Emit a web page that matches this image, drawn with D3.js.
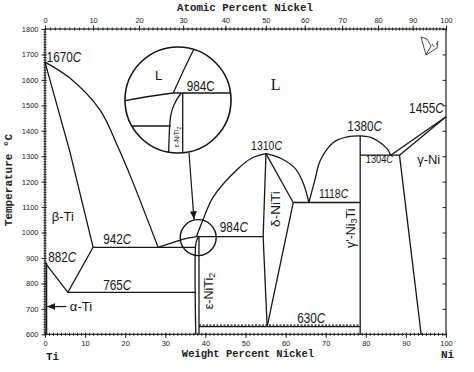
<!DOCTYPE html>
<html>
<head>
<meta charset="utf-8">
<script src="https://cdn.jsdelivr.net/npm/d3@7"></script>
<style>
  body { margin: 0; background: #fff; }
  svg { display: block; }
  .b { fill: none; stroke: #151515; stroke-width: 1.3; }
  .tick text { font-family: "Liberation Sans", Arial, sans-serif; font-size: 7.5px; fill: #222; }
  .tick line, .domain { stroke: #222; }
  .num { font-family: "Liberation Sans", Arial, sans-serif; fill: #151515; }
  .ph { font-family: "Liberation Sans", Arial, sans-serif; fill: #151515; }
  .ttl { font-family: "Liberation Mono", "DejaVu Sans Mono", monospace; font-weight: bold; fill: #222; }
</style>
</head>
<body>
<svg id="chart" width="474" height="372"></svg>
<script>
// tick labels
var wtTicks = [0, 10, 20, 30, 40, 50, 60, 70, 80, 90, 100];
var atTicks = [0, 10, 20, 30, 40, 50, 60, 70, 80, 90, 100];
var tempTicks = [600, 700, 800, 900, 1000, 1100, 1200, 1300, 1400, 1500, 1600, 1700, 1800];

// phase boundaries, [wt% Ni, T in C]
var liqTi     = [[0, 1670], [6.2, 1607], [13.7, 1482], [18.2, 1336], [21.7, 1206], [28.2, 942]];
var solTi     = [[0, 1670], [6.2, 1318], [12, 942]];
var eutectoid = [[0, 882], [5.7, 765], [12, 942]];
var alphaTi   = [[0.4, 600], [0.4, 882]];
var line765   = [[5.7, 765], [37.6, 765]];
var line942   = [[12, 942], [37.6, 942]];
var liqNiTi2  = [[28.2, 942], [31, 956], [34.5, 974], [37.77, 984]];
var epsLeft   = [[37.6, 600], [37.6, 955], [37.9, 972], [38.3, 984]];
var epsRight  = [[38.4, 600], [38.4, 984]];
var line984   = [[37.77, 984], [54.4, 984]];
var liqNiTiL  = [[37.77, 984], [39.1, 1038], [42, 1141], [47.8, 1246], [51.5, 1292], [55.1, 1310]];
var liqNiTiR  = [[55.1, 1310], [59, 1290], [62.5, 1250], [64.5, 1190], [65.8, 1118]];
var deltaL    = [[55.1, 1310], [54.4, 984], [55.4, 630]];
var deltaR    = [[55.1, 1310], [61.9, 1118], [55.4, 630]];
var line1118  = [[61.9, 1118], [78.6, 1118]];
var liqNi3TiL = [[65.8, 1118], [67.2, 1200], [68.7, 1285], [72, 1355], [75.5, 1376], [78.6, 1380]];
var liqNi3TiR = [[78.6, 1380], [81, 1375], [83, 1360], [85.3, 1330], [86.2, 1304]];
var ni3Ti     = [[78.6, 600], [78.6, 1380]];
var line1304  = [[78.6, 1304], [88.4, 1304]];
var liqNi     = [[86.2, 1304], [100, 1455]];
var solNi     = [[88.4, 1304], [100, 1455]];
var solvNi    = [[88.4, 1304], [93.8, 600]];
var line630   = [[38.4, 630], [78.6, 630]];
var line630b  = [[38.4, 636], [78.6, 636]];

// temperature labels: text, wt%, T
var tLabels = [
  ["1670", 0.4, 1670, 14], ["882", 0.8, 885, 14], ["942", 14.5, 953, 14],
  ["765", 14.5, 776, 14], ["984", 43.6, 1003, 14], ["1310", 51.4, 1326, 12.5],
  ["1118", 68.3, 1134, 12.5], ["1380", 75.4, 1400, 14], ["1455", 90.8, 1471, 14],
  ["1304", 80, 1272, 11], ["630", 62.9, 645, 14]
];

var svg = d3.select("#chart");

var x = d3.scaleLinear().domain([0, 100]).range([45, 446]);
var y = d3.scaleLinear().domain([600, 1800]).range([334.3, 29]);

// atomic % -> weight % (Ni 58.69, Ti 47.87)
function atToWt(a) { return 100 * a * 58.69 / (a * 58.69 + (100 - a) * 47.87); }
var atAll = d3.range(0, 101, 1);
var xAt = d3.scaleLinear().domain(atAll).range(atAll.map(function(a) { return x(atToWt(a)); }));

// frame
svg.append("rect").attr("x", 45).attr("y", 29).attr("width", 401).attr("height", 305.3)
  .attr("fill", "none").attr("stroke", "#222").attr("stroke-width", 1.2);

// bottom axis
var gB = svg.append("g").attr("transform", "translate(0,334.3)");
gB.call(d3.axisBottom(x).tickValues(d3.range(0, 101, 1)).tickSize(1.5).tickFormat(""));
gB.append("g").call(d3.axisBottom(x).tickValues(wtTicks).tickSize(3.5).tickPadding(2.5).tickFormat(d3.format("d")));
gB.selectAll(".tick line").attr("y1", -1.5);
gB.selectAll(".domain").remove();

// top axis
var gT = svg.append("g").attr("transform", "translate(0,29)");
gT.call(d3.axisTop(xAt).tickValues(atAll).tickSize(1.5).tickFormat(""));
gT.append("g").call(d3.axisTop(xAt).tickValues(atTicks).tickSize(3.5).tickPadding(2.5).tickFormat(d3.format("d")));
gT.selectAll(".tick line").attr("y1", 1.5);
gT.selectAll(".domain").remove();

// left axis
var gL = svg.append("g").attr("transform", "translate(45,0)");
gL.call(d3.axisLeft(y).tickValues(d3.range(600, 1801, 10)).tickSize(1.5).tickFormat(""));
gL.append("g").call(d3.axisLeft(y).tickValues(tempTicks).tickSize(3.5).tickPadding(3).tickFormat(d3.format("d")));
gL.selectAll(".tick line").attr("x1", 1.5);
gL.selectAll(".domain").remove();

// right axis
var gR = svg.append("g").attr("transform", "translate(446,0)");
gR.call(d3.axisRight(y).tickValues(tempTicks).tickSize(-3.5).tickFormat(""));
gR.selectAll(".domain").remove();

// boundaries
var line = d3.line().x(function(d) { return x(d[0]); }).y(function(d) { return y(d[1]); });
var smooth = d3.line().x(function(d) { return x(d[0]); }).y(function(d) { return y(d[1]); })
  .curve(d3.curveCatmullRom.alpha(0.5));

var straight = [solTi, eutectoid, alphaTi, epsRight, line984, deltaL, deltaR, line1118,
  ni3Ti, line1304, liqNi, solNi, solvNi, line630];
var curved = [liqTi, liqNiTi2, epsLeft, liqNiTiL, liqNiTiR, liqNi3TiL, liqNi3TiR];

var gP = svg.append("g");
straight.forEach(function(p) { gP.append("path").attr("class", "b").attr("d", line(p)); });
curved.forEach(function(p) { gP.append("path").attr("class", "b").attr("d", smooth(p)); });
[line765, line942].forEach(function(p) {
  gP.append("path").attr("class", "b").attr("stroke-width", 1.9).attr("d", line(p));
});
gP.append("path").attr("class", "b").attr("stroke-width", 0.9).attr("stroke-dasharray", "2,1.5")
  .attr("d", line(line630b));

// small circle at the peritectic
svg.append("circle").attr("cx", x(38.2)).attr("cy", y(980)).attr("r", 18)
  .attr("fill", "none").attr("stroke", "#151515").attr("stroke-width", 1.4);

// magnified view
var cx = 178, cy = 100, cr = 53;
var xIn = d3.scaleLinear().domain([37.6, 38.4]).range([170.7, 182.7]);
var yIn = d3.scaleLinear().domain([942, 984]).range([126, 93]);
var lineIn = d3.line().x(function(d) { return xIn(d[0]); }).y(function(d) { return yIn(d[1]); });
var smoothIn = d3.line().x(function(d) { return xIn(d[0]); }).y(function(d) { return yIn(d[1]); })
  .curve(d3.curveCatmullRom.alpha(0.5));

svg.append("clipPath").attr("id", "lens").append("circle").attr("cx", cx).attr("cy", cy).attr("r", cr);
svg.append("circle").attr("cx", cx).attr("cy", cy).attr("r", cr).attr("fill", "#fff");
var gIn = svg.append("g").attr("clip-path", "url(#lens)");
[epsRight, line984, line942].forEach(function(p) {
  gIn.append("path").attr("class", "b").attr("stroke-width", 1.5).attr("d", lineIn(p));
});
[liqNiTi2, epsLeft, liqNiTiL].forEach(function(p) {
  gIn.append("path").attr("class", "b").attr("stroke-width", 1.5).attr("d", smoothIn(p));
});
gIn.append("text").attr("class", "ph").attr("font-size", 13).attr("x", xIn(36.55)).attr("y", yIn(1001)).text("L");
gIn.append("text").attr("class", "num").attr("font-size", 14)
  .attr("transform", "translate(" + xIn(38.67) + "," + yIn(987) + ") scale(0.84,1)").text("984C");
gIn.append("text").attr("class", "ph").attr("font-size", 7).attr("text-anchor", "middle")
  .attr("transform", "translate(" + (xIn(38.0) + 2.5) + "," + yIn(928) + ") rotate(-90)")
  .html("ε-NiTi<tspan font-size='5' dy='1.5'>2</tspan>");
svg.append("circle").attr("cx", cx).attr("cy", cy).attr("r", cr)
  .attr("fill", "none").attr("stroke", "#151515").attr("stroke-width", 1.6);

// arrow from lens to the small circle
svg.append("defs").append("marker").attr("id", "ah").attr("viewBox", "0 0 10 10")
  .attr("refX", 10).attr("refY", 5).attr("markerWidth", 7).attr("markerHeight", 7)
  .attr("orient", "auto").append("path").attr("d", "M0,1L10,5L0,9Z").attr("fill", "#151515");
svg.append("line").attr("x1", 189).attr("y1", cy + cr).attr("x2", 194).attr("y2", y(980) - 18)
  .attr("stroke", "#151515").attr("stroke-width", 1.2).attr("marker-end", "url(#ah)");

// temperature labels (condensed look)
tLabels.forEach(function(l) {
  var t = svg.append("text").attr("class", "num").attr("font-size", l[3])
    .attr("transform", "translate(" + x(l[1]) + "," + y(l[2]) + ") scale(0.84,1)");
  t.append("tspan").text(l[0]);
  t.append("tspan").attr("font-style", "italic").text("C");
});

// phase names
svg.append("text").attr("x", x(56.3)).attr("y", y(1562)).attr("font-family", "Liberation Serif, serif")
  .attr("font-size", 16).attr("fill", "#151515").text("L");
svg.append("text").attr("class", "ph").attr("font-size", 13).attr("x", x(1.7)).attr("y", y(1045)).text("β-Ti");
svg.append("text").attr("class", "ph").attr("font-size", 13).attr("x", x(6.2)).attr("y", y(691)).text("α-Ti");
svg.append("text").attr("class", "ph").attr("font-size", 13).attr("x", x(92.8)).attr("y", y(1268)).text("γ-Ni");
svg.append("line").attr("x1", x(5.3)).attr("y1", y(709)).attr("x2", x(0.5)).attr("y2", y(709))
  .attr("stroke", "#151515").attr("stroke-width", 1.2).attr("marker-end", "url(#ah)");

function vText(wt, t, size, html) {
  svg.append("text").attr("class", "ph").attr("font-size", size).attr("text-anchor", "middle")
    .attr("transform", "translate(" + x(wt) + "," + y(t) + ") rotate(-90)").html(html);
}
vText(58.6, 1092, 13.5, "δ-NiTi");
vText(77.3, 1017, 12.5, "γ'-Ni<tspan font-size='9' dy='2'>3</tspan><tspan dy='-2'>Ti</tspan>");
vText(42, 770, 12.5, "ε-NiTi<tspan font-size='9' dy='2'>2</tspan>");

// axis titles
svg.append("text").attr("class", "ttl").attr("font-size", 10.8).attr("text-anchor", "middle")
  .attr("x", 245).attr("y", 11).text("Atomic Percent Nickel");
svg.append("text").attr("class", "ttl").attr("font-size", 10.5).attr("text-anchor", "middle")
  .attr("x", 248).attr("y", 357).text("Weight Percent Nickel");
svg.append("text").attr("class", "ttl").attr("font-size", 11).attr("text-anchor", "middle")
  .attr("transform", "translate(12,180) rotate(-90)").text("Temperature °C");
svg.append("text").attr("class", "ttl").attr("font-size", 11).attr("x", 46).attr("y", 360).text("Ti");
svg.append("text").attr("class", "ttl").attr("font-size", 11).attr("x", 441).attr("y", 358).text("Ni");

// small logo sketch
svg.append("path").attr("fill", "none").attr("stroke", "#333").attr("stroke-width", 0.9)
  .attr("d", "M421,37 L426,55 L437,48 L438,41 M421,37 L427,39 L431,46 L426,55 M432,44 L434,47 M436,43 L437,45");
</script>
</body>
</html>
